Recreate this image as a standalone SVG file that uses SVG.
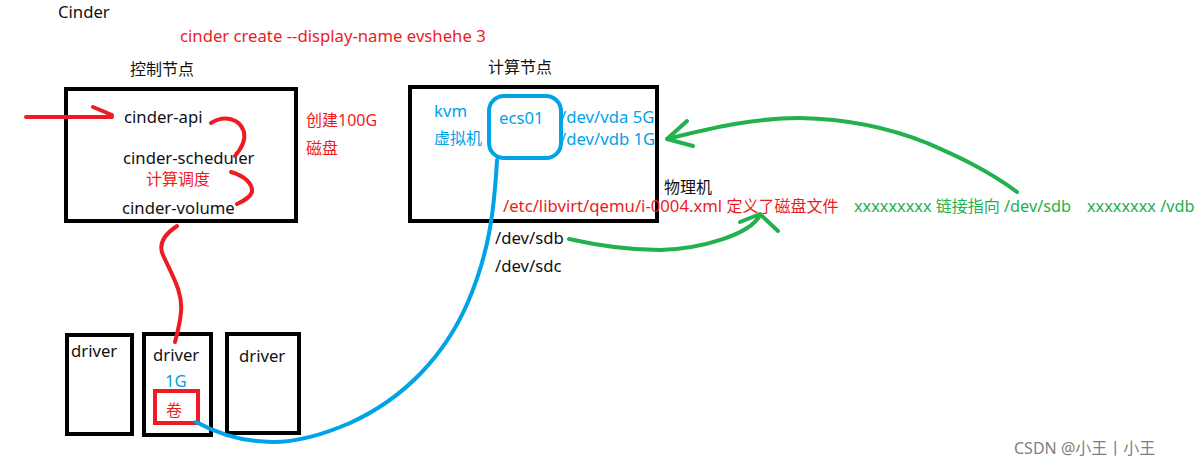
<svg xmlns="http://www.w3.org/2000/svg" width="1201" height="467" viewBox="0 0 1201 467">
<style>
text{font-family:"Noto Sans","Noto Sans CJK SC",sans-serif;font-size:16.7px;fill:#111}
.r{fill:#ed1c24}.b{fill:#00a2e8}.g{fill:#22b14c;font-size:16.3px}
.z{font-size:16px}
.box{fill:none;stroke:#000;stroke-width:4}
.cr,.cb,.cg{fill:none;stroke-linecap:round;stroke-linejoin:round;stroke-width:4}
.cr{stroke:#ed1c24}.cb{stroke:#00a2e8}.cg{stroke:#22b14c}
</style>
<rect width="1201" height="467" fill="#fff"/>
<g id="title"><text x="58" y="18">Cinder</text><text x="180" y="42" class="r">cinder create --display-name evshehe 3</text></g>
<g id="control-node">
<text x="130" y="75" class="z">控制节点</text>
<rect class="box" x="66" y="89" width="230" height="132"/>
<text x="124" y="123">cinder-api</text>
<text x="123" y="164">cinder-scheduler</text>
<text x="146" y="185" class="r z">计算调度</text>
<text x="122" y="214">cinder-volume</text>
<text x="306" y="126" class="r z">创建100G</text>
<text x="306" y="154" class="r z">磁盘</text>
</g>
<g id="compute-node">
<text x="488" y="73" class="z">计算节点</text>
<rect class="box" x="410" y="87" width="247" height="134"/>
<text x="434" y="117" class="b">kvm</text>
<text x="434" y="144" class="b z">虚拟机</text>
<rect x="489" y="96" width="72" height="62" rx="15" fill="none" stroke="#00a2e8" stroke-width="4"/>
<text x="499" y="124" class="b">ecs01</text>
<text x="560" y="123" class="b">/dev/vda 5G</text>
<text x="560" y="145" class="b">/dev/vdb 1G</text>
<text x="664" y="193" class="z">物理机</text>
<text x="503" y="212" class="r">/etc/libvirt/qemu/i-0004.xml <tspan class="z">定义了磁盘文件</tspan></text>
<text x="854" y="212" class="g">xxxxxxxxx <tspan class="z">链接指向</tspan> /dev/sdb</text>
<text x="1087" y="212" class="g">xxxxxxxx /vdb</text>
<text x="495" y="244">/dev/sdb</text>
<text x="495" y="272">/dev/sdc</text>
</g>
<g id="driver-1"><rect class="box" x="67" y="335" width="65" height="99"/><text x="71" y="357">driver</text></g>
<g id="driver-2"><rect class="box" x="144" y="334" width="67" height="101"/><text x="153" y="361">driver</text><text x="165" y="387" class="b">1G</text></g>
<g id="driver-3"><rect class="box" x="227" y="334" width="72" height="99"/><text x="239" y="362">driver</text></g>
<g id="volume"><rect x="155" y="391" width="43" height="32" fill="none" stroke="#ed1c24" stroke-width="4"/><text x="166" y="416" class="r z">卷</text></g>
<g id="watermark"><text x="1014" y="454" style="font-size:16px;fill:#808080">CSDN @小王丨小王</text></g>
<g id="connectors">
<path class="cr" d="M26 117H112M93 107L112 115"/>
<path class="cr" d="M211 123C224 115 240 118 244 132C246 142 240 150 235 156"/>
<path class="cr" d="M231 172C245 176 253 184 252 192C250 198 243 201 237 204"/>
<path class="cr" d="M177 226C165 234 158 244 163 255C172 275 183 292 181 312C180 324 177 334 175 342"/>
<path class="cb" d="M497 160C494 215 488 255 468 302C445 355 405 398 350 423C320 436 295 442 273 442C245 442 220 435 196 422"/>
<path class="cg" d="M569 239C600 246 630 250 660 250C700 249 750 235 760 215M740 222L760 214L778 231"/>
<path class="cg" d="M1017 192C985 168 950 153 927 143C890 128 850 119 800 118C755 118 715 127 667 139M687 121L667 139L693 146"/>
</g>
</svg>
